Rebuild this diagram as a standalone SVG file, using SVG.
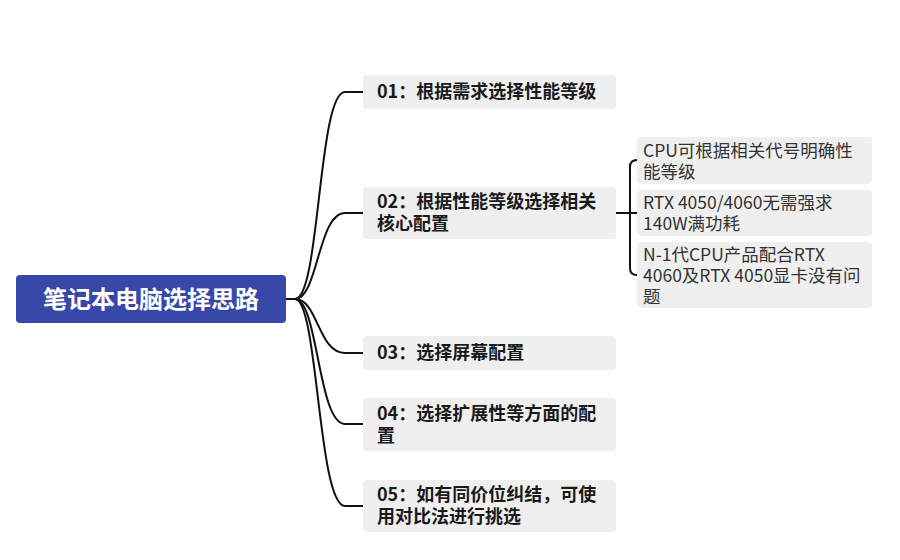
<svg xmlns="http://www.w3.org/2000/svg" width="900" height="560" viewBox="0 0 900 560">
<style>
.n{fill:#efefef}
.t{font-family:"Noto Sans CJK SC","Liberation Sans",sans-serif;font-size:18px;fill:#1a1a1a;font-weight:bold}
.s{font-family:"Noto Sans CJK SC","Liberation Sans",sans-serif;font-size:17.5px;fill:#333}
.c{fill:none;stroke:#111;stroke-width:2}
</style>
<rect width="900" height="560" fill="#fff"/>
<g id="connectors">
<path class="c" d="M286,299 H295 C320,299 318,92 345,92 H363"/>
<path class="c" d="M295,299 C318,299 318,213 345,213 H363"/>
<path class="c" d="M295,299 C318,299 318,353 345,353 H363"/>
<path class="c" d="M295,299 C318,299 318,424 345,424 H363"/>
<path class="c" d="M295,299 C318,299 318,506 345,506 H363"/>
<path class="c" d="M616,213 H637 M637,160 Q630,160 630,167 V268 Q630,275 637,275"/>
</g>
<g id="root"><rect x="16" y="275" width="270" height="48" rx="4" fill="#3848a8"/><text x="151" y="308" text-anchor="middle" style="font-family:'Noto Sans CJK SC',sans-serif;font-size:24px;font-weight:bold;fill:#fff">笔记本电脑选择思路</text></g>
<g id="n01"><rect class="n" x="363" y="75" width="253" height="34" rx="4"/><text class="t" x="377" y="98">01：根据需求选择性能等级</text></g>
<g id="n02"><rect class="n" x="363" y="187" width="253" height="52" rx="4"/><text class="t" x="377" y="208">02：根据性能等级选择相关</text><text class="t" x="377" y="230">核心配置</text></g>
<g id="n03"><rect class="n" x="363" y="336" width="253" height="34" rx="4"/><text class="t" x="377" y="359">03：选择屏幕配置</text></g>
<g id="n04"><rect class="n" x="363" y="398" width="253" height="53" rx="4"/><text class="t" x="377" y="420">04：选择扩展性等方面的配</text><text class="t" x="377" y="442">置</text></g>
<g id="n05"><rect class="n" x="363" y="480" width="253" height="52" rx="4"/><text class="t" x="377" y="501">05：如有同价位纠结，可使</text><text class="t" x="377" y="523">用对比法进行挑选</text></g>
<g id="s1"><rect class="n" x="637" y="137" width="235" height="47" rx="4"/><text class="s" x="643" y="157">CPU可根据相关代号明确性</text><text class="s" x="643" y="178">能等级</text></g>
<g id="s2"><rect class="n" x="637" y="190" width="235" height="46" rx="4"/><text class="s" x="643" y="209">RTX 4050/4060无需强求</text><text class="s" x="643" y="230">140W满功耗</text></g>
<g id="s3"><rect class="n" x="637" y="242" width="235" height="66" rx="4"/><text class="s" x="643" y="261">N-1代CPU产品配合RTX</text><text class="s" x="643" y="282">4060及RTX 4050显卡没有问</text><text class="s" x="643" y="303">题</text></g>
</svg>
